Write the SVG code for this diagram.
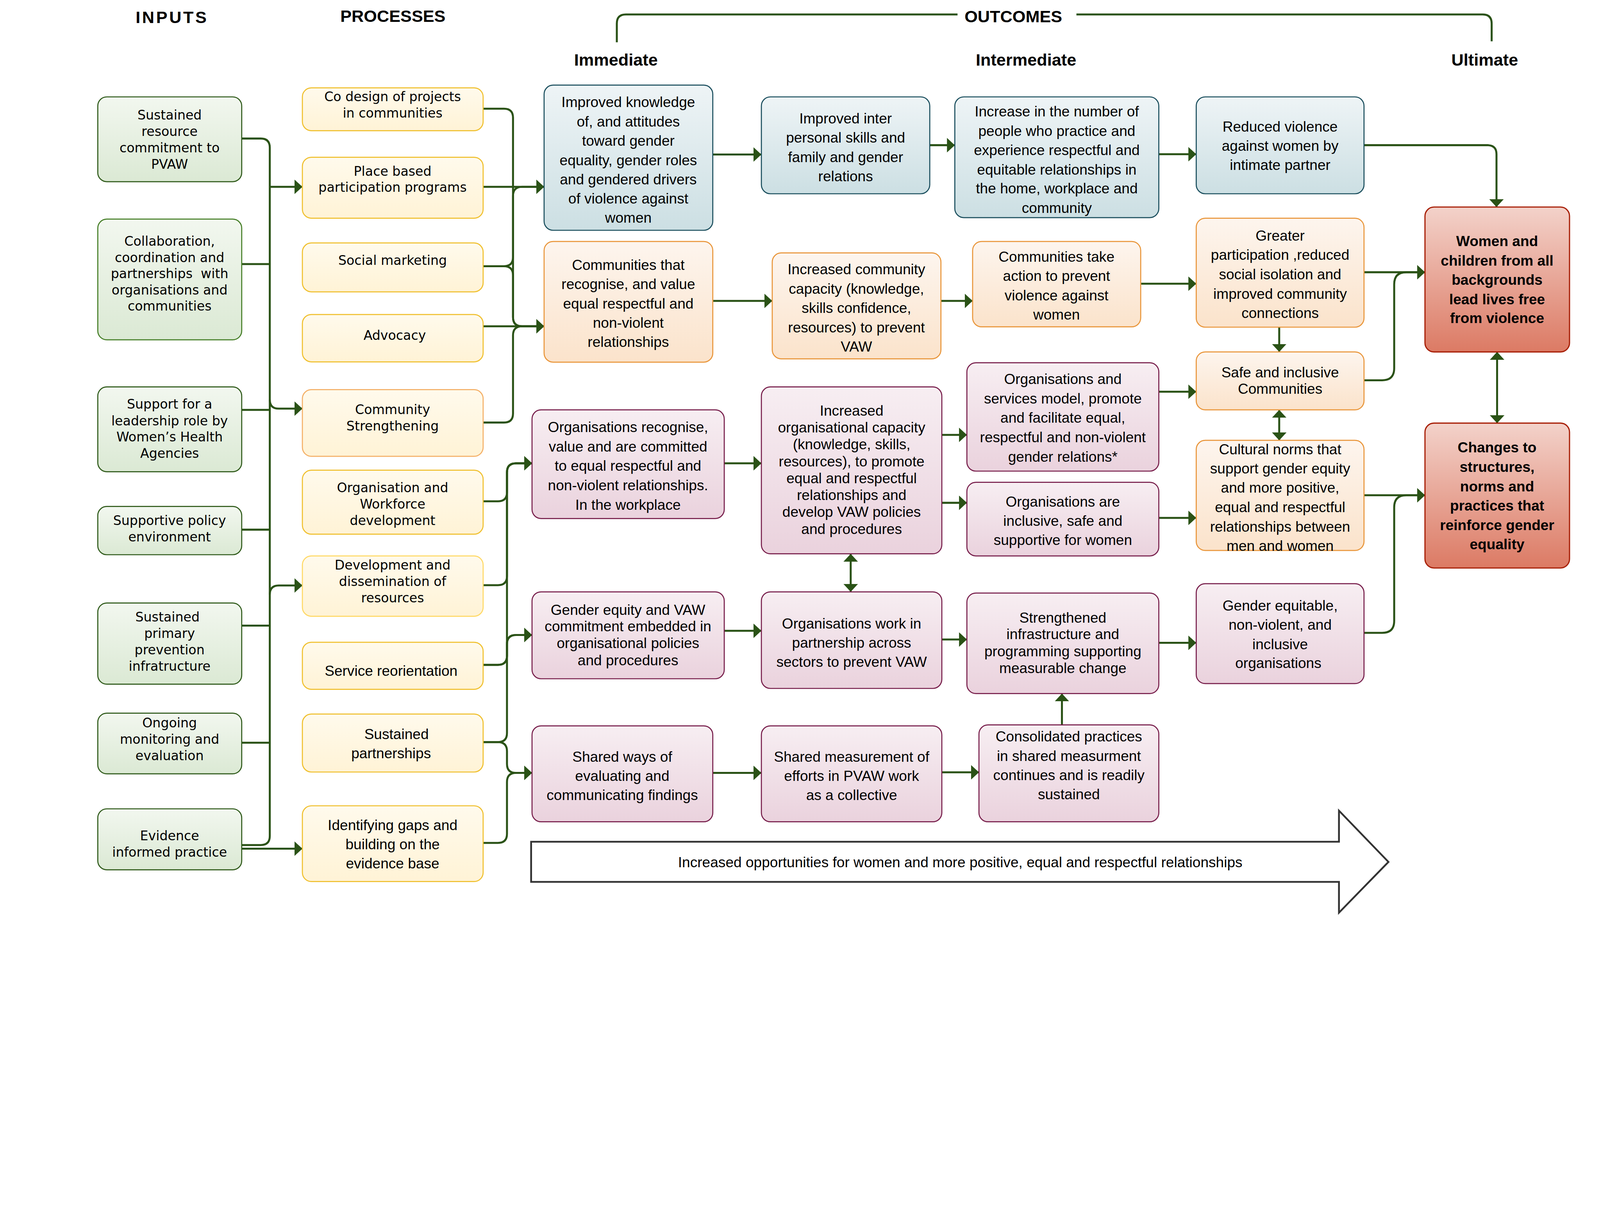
<svg xmlns="http://www.w3.org/2000/svg" width="5302" height="3100" viewBox="0 0 5302 3100" style="display:block;width:100vw;height:58.47vw">
<defs>
<linearGradient id="gG" x1="0" y1="0" x2="0" y2="1"><stop offset="0" stop-color="#F2F7EF"/><stop offset="1" stop-color="#DBE9D4"/></linearGradient>
<linearGradient id="gY" x1="0" y1="0" x2="0" y2="1"><stop offset="0" stop-color="#FFFAEC"/><stop offset="1" stop-color="#FFF3D6"/></linearGradient>
<linearGradient id="gB" x1="0" y1="0" x2="0" y2="1"><stop offset="0" stop-color="#EEF4F6"/><stop offset="1" stop-color="#CCDFE3"/></linearGradient>
<linearGradient id="gO" x1="0" y1="0" x2="0" y2="1"><stop offset="0" stop-color="#FDF5EE"/><stop offset="1" stop-color="#FBE3CB"/></linearGradient>
<linearGradient id="gP" x1="0" y1="0" x2="0" y2="1"><stop offset="0" stop-color="#F7EEF2"/><stop offset="1" stop-color="#EAD2DD"/></linearGradient>
<linearGradient id="gR" x1="0" y1="0" x2="0" y2="1"><stop offset="0" stop-color="#F3D2CA"/><stop offset="1" stop-color="#DC7A64"/></linearGradient>
<marker id="ah" markerUnits="userSpaceOnUse" markerWidth="28" markerHeight="50" refX="26" refY="24" orient="auto-start-reverse"><path d="M0,0 L26,24 L0,48 Z" fill="#2A5216"/></marker>
<style>
.c{fill:none;stroke:#2A5216;stroke-width:6.5;stroke-linejoin:round}
.a{marker-end:url(#ah)}
.d{marker-start:url(#ah);marker-end:url(#ah)}
.g{fill:url(#gG);stroke:#2F5A1A;stroke-width:3.5}
.g2{fill:url(#gG);stroke:#457E26;stroke-width:3.5}
.y{fill:url(#gY);stroke:#F0C02F;stroke-width:3.5}
.y2{fill:url(#gY);stroke:#F4B067;stroke-width:3.5}
.y3{fill:url(#gY);stroke:#FFD966;stroke-width:3.5}
.b{fill:url(#gB);stroke:#1B4F5E;stroke-width:3.5}
.o{fill:url(#gO);stroke:#E9963B;stroke-width:3.5}
.p{fill:url(#gP);stroke:#781F4C;stroke-width:3.5}
.r{fill:url(#gR);stroke:#A82008;stroke-width:4}
.ti{font-family:"Liberation Sans",Arial,sans-serif;font-weight:bold;font-size:56px;text-anchor:middle;fill:#000}
.tv{font-family:"DejaVu Sans",Verdana,sans-serif;font-size:43px;text-anchor:middle;fill:#000}
.ta{font-family:"Liberation Sans",Arial,sans-serif;font-size:48px;text-anchor:middle;fill:#000}
.tb{font-family:"Liberation Sans",Arial,sans-serif;font-size:48px;font-weight:bold;text-anchor:middle;fill:#000}
</style>
</defs>
<rect width="5302" height="3100" fill="#FFFFFF"/>

<g id="titles">
<text class="ti" x="570" y="76" letter-spacing="6">INPUTS</text>
<text class="ti" x="1302" y="72">PROCESSES</text>
<text class="ti" x="3358" y="74">OUTCOMES</text>
<text class="ti" x="2041" y="218">Immediate</text>
<text class="ti" x="3400" y="218">Intermediate</text>
<text class="ti" x="4920" y="218">Ultimate</text>
<path class="c" d="M2044 140 V78 Q2044 48 2074 48 H3173 M3567 48 H4913 Q4943 48 4943 78 V137"/>
</g>

<g id="connectors">
<path class="c" d="M801 459 H864 Q894 459 894 489 V2770 Q894 2800 864 2800 H801"/>
<path class="c" d="M801 875 H894 M801 1358 H894 M801 1755 H894 M801 2073 H894 M801 2461 H894"/>
<path class="c a" d="M894 619 H1002"/>
<path class="c a" d="M894 1324 Q894 1354 924 1354 H1002"/>
<path class="c a" d="M894 1970 Q894 1940 924 1940 H1002"/>
<path class="c a" d="M801 2812 H1002"/>

<path class="c a" d="M1601 360 H1670 Q1700 360 1700 390 V1051 Q1700 1081 1730 1081 H1803"/>
<path class="c a" d="M1601 619 H1803"/>
<path class="c a" d="M1601 882 H1670 Q1700 882 1700 852 V649 Q1700 619 1730 619 H1803"/>
<path class="c a" d="M1601 882 H1670 Q1700 882 1700 912 V1051 Q1700 1081 1730 1081 H1803"/>
<path class="c a" d="M1601 1081 H1803"/>
<path class="c a" d="M1601 1400 H1670 Q1700 1400 1700 1370 V1111 Q1700 1081 1730 1081 H1803"/>

<path class="c a" d="M1601 1661 H1650 Q1680 1661 1680 1631 V1565 Q1680 1535 1710 1535 H1763"/>
<path class="c a" d="M1601 1939 H1650 Q1680 1939 1680 1909 V1565 Q1680 1535 1710 1535 H1763"/>
<path class="c a" d="M1601 2203 H1650 Q1680 2203 1680 2173 V1565 Q1680 1535 1710 1535 H1763"/>
<path class="c a" d="M1601 2203 H1650 Q1680 2203 1680 2173 V2134 Q1680 2104 1710 2104 H1763"/>
<path class="c a" d="M1601 2459 H1650 Q1680 2459 1680 2429 V2134 Q1680 2104 1710 2104 H1763"/>
<path class="c a" d="M1601 2459 H1650 Q1680 2459 1680 2489 V2531 Q1680 2561 1710 2561 H1763"/>
<path class="c a" d="M1601 2793 H1650 Q1680 2793 1680 2763 V2591 Q1680 2561 1710 2561 H1763"/>

<path class="c a" d="M2362 512 H2523"/>
<path class="c a" d="M3081 481 H3164"/>
<path class="c a" d="M3840 511 H3964"/>
<path class="c a" d="M4520 481 H4929 Q4959 481 4959 511 V686"/>
<path class="c a" d="M2362 997 H2559"/>
<path class="c a" d="M3118 997 H3223"/>
<path class="c a" d="M3780 940 H3964"/>
<path class="c a" d="M4520 902 H4722"/>
<path class="c a" d="M4239 1084 V1166"/>
<path class="c a" d="M4520 1260 H4580 Q4620 1260 4620 1220 V942 Q4620 902 4660 902 H4722"/>
<path class="c d" d="M4239 1358 V1459"/>
<path class="c d" d="M4961 1166 V1402"/>
<path class="c a" d="M4520 1641 H4722"/>
<path class="c a" d="M4520 2097 H4580 Q4620 2097 4620 2057 V1681 Q4620 1641 4660 1641 H4722"/>
<path class="c a" d="M3840 1298 H3964"/>
<path class="c a" d="M3840 1716 H3964"/>
<path class="c a" d="M2400 1535 H2523"/>
<path class="c a" d="M3121 1441 H3204"/>
<path class="c a" d="M3121 1666 H3204"/>
<path class="c d" d="M2819 1835 V1961"/>
<path class="c a" d="M2400 2090 H2523"/>
<path class="c a" d="M3121 2119 H3204"/>
<path class="c a" d="M3840 2130 H3964"/>
<path class="c a" d="M2362 2561 H2523"/>
<path class="c a" d="M3121 2559 H3244"/>
<path class="c a" d="M3519 2402 V2298"/>
</g>

<g id="in1"><rect class="g" x="324" y="321" width="477" height="281" rx="30"/><text class="tv"><tspan x="562" y="396">Sustained</tspan><tspan x="562" y="451">resource</tspan><tspan x="562" y="505">commitment to</tspan><tspan x="562" y="559">PVAW</tspan></text></g>
<g id="in2"><rect class="g2" x="324" y="726" width="477" height="400" rx="30"/><text class="tv" xml:space="preserve"><tspan x="562" y="814">Collaboration,</tspan><tspan x="562" y="868">coordination and</tspan><tspan x="562" y="922">partnerships  with</tspan><tspan x="562" y="976">organisations and</tspan><tspan x="562" y="1029">communities</tspan></text></g>
<g id="in3"><rect class="g" x="324" y="1282" width="477" height="281" rx="30"/><text class="tv"><tspan x="562" y="1354">Support for a</tspan><tspan x="562" y="1409">leadership role by</tspan><tspan x="562" y="1463">Women’s Health</tspan><tspan x="562" y="1517">Agencies</tspan></text></g>
<g id="in4"><rect class="g" x="324" y="1678" width="477" height="160" rx="30"/><text class="tv"><tspan x="562" y="1740">Supportive policy</tspan><tspan x="562" y="1794">environment</tspan></text></g>
<g id="in5"><rect class="g" x="324" y="1998" width="477" height="269" rx="30"/><text class="tv"><tspan x="555" y="2060">Sustained</tspan><tspan x="562" y="2114">primary</tspan><tspan x="562" y="2168">prevention</tspan><tspan x="562" y="2222">infratructure</tspan></text></g>
<g id="in6"><rect class="g" x="324" y="2363" width="477" height="201" rx="30"/><text class="tv"><tspan x="562" y="2410">Ongoing</tspan><tspan x="562" y="2464">monitoring and</tspan><tspan x="562" y="2519">evaluation</tspan></text></g>
<g id="in7"><rect class="g" x="324" y="2680" width="477" height="202" rx="30"/><text class="tv"><tspan x="562" y="2784">Evidence</tspan><tspan x="562" y="2838">informed practice</tspan></text></g>

<g id="pr1"><rect class="y" x="1002" y="291" width="599" height="142" rx="30"/><text class="tv"><tspan x="1301" y="335">Co design of projects</tspan><tspan x="1301" y="389">in communities</tspan></text></g>
<g id="pr2"><rect class="y" x="1002" y="521" width="599" height="202" rx="30"/><text class="tv"><tspan x="1301" y="582">Place based</tspan><tspan x="1301" y="636">participation programs</tspan></text></g>
<g id="pr3"><rect class="y" x="1002" y="805" width="599" height="162" rx="30"/><text class="tv"><tspan x="1301" y="877">Social marketing</tspan></text></g>
<g id="pr4"><rect class="y" x="1002" y="1042" width="599" height="157" rx="30"/><text class="tv"><tspan x="1308" y="1126">Advocacy</tspan></text></g>
<g id="pr5"><rect class="y2" x="1002" y="1291" width="599" height="221" rx="30"/><text class="tv"><tspan x="1301" y="1372">Community</tspan><tspan x="1301" y="1426">Strengthening</tspan></text></g>
<g id="pr6"><rect class="y" x="1002" y="1558" width="599" height="212" rx="30"/><text class="tv"><tspan x="1301" y="1631">Organisation and</tspan><tspan x="1301" y="1685">Workforce</tspan><tspan x="1301" y="1740">development</tspan></text></g>
<g id="pr7"><rect class="y3" x="1002" y="1842" width="599" height="200" rx="30"/><text class="tv"><tspan x="1301" y="1887">Development and</tspan><tspan x="1301" y="1942">dissemination of</tspan><tspan x="1301" y="1996">resources</tspan></text></g>
<g id="pr8"><rect class="y" x="1002" y="2128" width="599" height="156" rx="30"/><text class="ta"><tspan x="1296" y="2239">Service reorientation</tspan></text></g>
<g id="pr9"><rect class="y" x="1002" y="2366" width="599" height="192" rx="30"/><text class="ta"><tspan x="1314" y="2449">Sustained</tspan><tspan x="1296" y="2512">partnerships</tspan></text></g>
<g id="pr10"><rect class="y" x="1002" y="2670" width="599" height="251" rx="30"/><text class="ta"><tspan x="1301" y="2751">Identifying gaps and</tspan><tspan x="1301" y="2814">building on the</tspan><tspan x="1301" y="2877">evidence base</tspan></text></g>

<g id="o_knowledge"><rect class="b" x="1803" y="282" width="559" height="481" rx="30"/><text class="ta"><tspan x="2082" y="354">Improved knowledge</tspan><tspan x="2082" y="419">of, and attitudes</tspan><tspan x="2082" y="483">toward gender</tspan><tspan x="2082" y="547">equality, gender roles</tspan><tspan x="2082" y="611">and gendered drivers</tspan><tspan x="2082" y="675">of violence against</tspan><tspan x="2082" y="738">women</tspan></text></g>
<g id="o_inter"><rect class="b" x="2523" y="321" width="558" height="321" rx="30"/><text class="ta"><tspan x="2802" y="409">Improved inter</tspan><tspan x="2802" y="473">personal skills and</tspan><tspan x="2802" y="537">family and gender</tspan><tspan x="2802" y="601">relations</tspan></text></g>
<g id="o_increase"><rect class="b" x="3164" y="321" width="676" height="400" rx="30"/><text class="ta"><tspan x="3502" y="386">Increase in the number of</tspan><tspan x="3502" y="450">people who practice and</tspan><tspan x="3502" y="514">experience respectful and</tspan><tspan x="3502" y="578">equitable relationships in</tspan><tspan x="3502" y="641">the home, workplace and</tspan><tspan x="3502" y="706">community</tspan></text></g>
<g id="o_reduced"><rect class="b" x="3964" y="321" width="556" height="321" rx="30"/><text class="ta"><tspan x="4242" y="436">Reduced violence</tspan><tspan x="4242" y="499">against women by</tspan><tspan x="4242" y="563">intimate partner</tspan></text></g>
<g id="o_women"><rect class="r" x="4722" y="686" width="479" height="480" rx="30"/><text class="tb"><tspan x="4961" y="816">Women and</tspan><tspan x="4961" y="880">children from all</tspan><tspan x="4961" y="944">backgrounds</tspan><tspan x="4961" y="1008">lead lives free</tspan><tspan x="4961" y="1071">from violence</tspan></text></g>

<g id="o_commrec"><rect class="o" x="1803" y="800" width="559" height="400" rx="30"/><text class="ta"><tspan x="2082" y="894">Communities that</tspan><tspan x="2082" y="958">recognise, and value</tspan><tspan x="2082" y="1022">equal respectful and</tspan><tspan x="2082" y="1086">non-violent</tspan><tspan x="2082" y="1150">relationships</tspan></text></g>
<g id="o_commcap"><rect class="o" x="2559" y="838" width="559" height="351" rx="30"/><text class="ta"><tspan x="2838" y="909">Increased community</tspan><tspan x="2838" y="973">capacity (knowledge,</tspan><tspan x="2838" y="1037">skills confidence,</tspan><tspan x="2838" y="1101">resources) to prevent</tspan><tspan x="2838" y="1165">VAW</tspan></text></g>
<g id="o_commtake"><rect class="o" x="3223" y="800" width="557" height="283" rx="30"/><text class="ta"><tspan x="3501" y="867">Communities take</tspan><tspan x="3501" y="931">action to prevent</tspan><tspan x="3501" y="995">violence against</tspan><tspan x="3501" y="1059">women</tspan></text></g>
<g id="o_greater"><rect class="o" x="3964" y="723" width="556" height="361" rx="30"/><text class="ta"><tspan x="4242" y="797">Greater</tspan><tspan x="4242" y="861">participation ,reduced</tspan><tspan x="4242" y="925">social isolation and</tspan><tspan x="4242" y="990">improved community</tspan><tspan x="4242" y="1054">connections</tspan></text></g>
<g id="o_safe"><rect class="o" x="3964" y="1166" width="556" height="192" rx="30"/><text class="ta"><tspan x="4242" y="1250">Safe and inclusive</tspan><tspan x="4242" y="1305">Communities</tspan></text></g>
<g id="o_cultural"><rect class="o" x="3964" y="1459" width="556" height="365" rx="30"/><text class="ta"><tspan x="4242" y="1505">Cultural norms that</tspan><tspan x="4242" y="1569">support gender equity</tspan><tspan x="4242" y="1632">and more positive,</tspan><tspan x="4242" y="1697">equal and respectful</tspan><tspan x="4242" y="1761">relationships between</tspan><tspan x="4242" y="1825">men and women</tspan></text></g>
<g id="o_changes"><rect class="r" x="4722" y="1402" width="479" height="480" rx="30"/><text class="tb"><tspan x="4961" y="1499">Changes to</tspan><tspan x="4961" y="1563">structures,</tspan><tspan x="4961" y="1628">norms and</tspan><tspan x="4961" y="1692">practices that</tspan><tspan x="4961" y="1756">reinforce gender</tspan><tspan x="4961" y="1820">equality</tspan></text></g>

<g id="o_orgrec"><rect class="p" x="1763" y="1358" width="637" height="360" rx="30"/><text class="ta"><tspan x="2081" y="1432">Organisations recognise,</tspan><tspan x="2081" y="1496">value and are committed</tspan><tspan x="2081" y="1560">to equal respectful and</tspan><tspan x="2081" y="1625">non-violent relationships.</tspan><tspan x="2081" y="1689">In the workplace</tspan></text></g>
<g id="o_orgcap"><rect class="p" x="2523" y="1282" width="598" height="553" rx="30"/><text class="ta"><tspan x="2822" y="1377">Increased</tspan><tspan x="2822" y="1433">organisational capacity</tspan><tspan x="2822" y="1489">(knowledge, skills,</tspan><tspan x="2822" y="1545">resources), to promote</tspan><tspan x="2822" y="1601">equal and respectful</tspan><tspan x="2822" y="1657">relationships and</tspan><tspan x="2822" y="1713">develop VAW policies</tspan><tspan x="2822" y="1769">and procedures</tspan></text></g>
<g id="o_orgserv"><rect class="p" x="3204" y="1202" width="636" height="359" rx="30"/><text class="ta"><tspan x="3522" y="1272">Organisations and</tspan><tspan x="3522" y="1337">services model, promote</tspan><tspan x="3522" y="1400">and facilitate equal,</tspan><tspan x="3522" y="1465">respectful and non-violent</tspan><tspan x="3522" y="1530">gender relations*</tspan></text></g>
<g id="o_orgincl"><rect class="p" x="3204" y="1598" width="636" height="244" rx="30"/><text class="ta"><tspan x="3522" y="1679">Organisations are</tspan><tspan x="3522" y="1742">inclusive, safe and</tspan><tspan x="3522" y="1806">supportive for women</tspan></text></g>
<g id="o_geneq"><rect class="p" x="1763" y="1961" width="637" height="288" rx="30"/><text class="ta"><tspan x="2081" y="2037">Gender equity and VAW</tspan><tspan x="2081" y="2092">commitment embedded in</tspan><tspan x="2081" y="2148">organisational policies</tspan><tspan x="2081" y="2204">and procedures</tspan></text></g>
<g id="o_orgpart"><rect class="p" x="2523" y="1961" width="598" height="320" rx="30"/><text class="ta"><tspan x="2822" y="2082">Organisations work in</tspan><tspan x="2822" y="2146">partnership across</tspan><tspan x="2822" y="2209">sectors to prevent VAW</tspan></text></g>
<g id="o_strength"><rect class="p" x="3204" y="1965" width="636" height="333" rx="30"/><text class="ta"><tspan x="3522" y="2063">Strengthened</tspan><tspan x="3522" y="2118">infrastructure and</tspan><tspan x="3522" y="2174">programming supporting</tspan><tspan x="3522" y="2230">measurable change</tspan></text></g>
<g id="o_genequit"><rect class="p" x="3964" y="1934" width="556" height="331" rx="30"/><text class="ta"><tspan x="4242" y="2023">Gender equitable,</tspan><tspan x="4242" y="2087">non-violent, and</tspan><tspan x="4242" y="2151">inclusive</tspan><tspan x="4236" y="2214">organisations</tspan></text></g>
<g id="o_sharedways"><rect class="p" x="1763" y="2405" width="599" height="318" rx="30"/><text class="ta"><tspan x="2062" y="2524">Shared ways of</tspan><tspan x="2062" y="2588">evaluating and</tspan><tspan x="2062" y="2651">communicating findings</tspan></text></g>
<g id="o_sharedmeas"><rect class="p" x="2523" y="2405" width="598" height="318" rx="30"/><text class="ta"><tspan x="2822" y="2524">Shared measurement of</tspan><tspan x="2822" y="2588">efforts in PVAW work</tspan><tspan x="2822" y="2651">as a collective</tspan></text></g>
<g id="o_consol"><rect class="p" x="3244" y="2402" width="596" height="321" rx="30"/><text class="ta"><tspan x="3542" y="2457">Consolidated practices</tspan><tspan x="3542" y="2521">in shared measurment</tspan><tspan x="3542" y="2585">continues and is readily</tspan><tspan x="3542" y="2648">sustained</tspan></text></g>

<g id="bigarrow">
<polygon points="1760,2789 4437,2789 4437,2686 4601,2856 4437,3024 4437,2922 1760,2922" fill="#FFFFFF" stroke="#333333" stroke-width="6"/>
<text class="ta" x="3182" y="2873">Increased opportunities for women and more positive, equal and respectful relationships</text>
</g>
</svg>
